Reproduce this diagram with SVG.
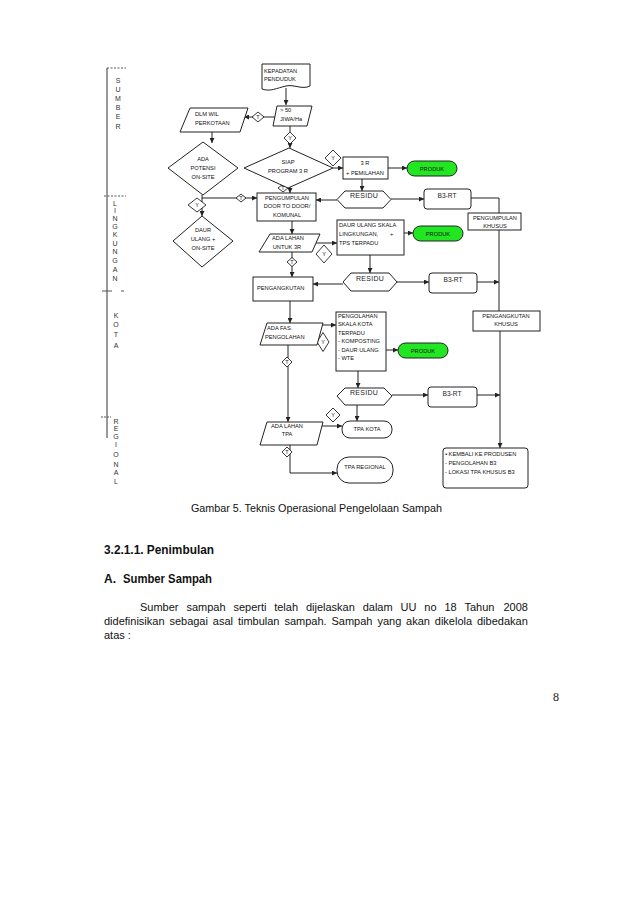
<svg xmlns="http://www.w3.org/2000/svg" width="638" height="899" viewBox="0 0 638 899">
<style>
.ln{fill:none;stroke:#222;stroke-width:1}
.bx{fill:#fff;stroke:#222;stroke-width:1}
.gr{fill:#22e622;stroke:#222;stroke-width:1}
.t{font-family:"Liberation Sans",Arial,sans-serif;font-size:5.7px;fill:#111}
.c{text-anchor:middle}
.res{font-family:"Liberation Sans",Arial,sans-serif;font-size:7px;fill:#222;text-anchor:middle;letter-spacing:0.3px}
.b3{font-family:"Liberation Sans",Arial,sans-serif;font-size:6.6px;fill:#222;text-anchor:middle}
.sd{fill:#fff;stroke:#222;stroke-width:0.9}
.st{font-family:"Liberation Sans",Arial,sans-serif;font-size:5.5px;fill:#222;text-anchor:middle}
.ax{font-family:"Liberation Sans",Arial,sans-serif;font-size:7px;fill:#333;text-anchor:middle}
.body{font-family:"Liberation Sans",Arial,sans-serif;font-size:11px;fill:#111}
.hd{font-family:"Liberation Sans",Arial,sans-serif;font-size:12px;font-weight:bold;fill:#111}
</style>
<defs>
<marker id="a" viewBox="0 0 6 6" refX="6" refY="3" markerWidth="5" markerHeight="5" orient="auto" markerUnits="userSpaceOnUse"><path d="M0,0 L6,3 L0,6 z" fill="#222"/></marker>
</defs>
<rect width="638" height="899" fill="#fff"/>

<g id="axis">
<line x1="107" y1="68" x2="107" y2="438" stroke="#555" stroke-width="1.2"/>
<line x1="107" y1="68" x2="126" y2="68" stroke="#555" stroke-width="1" stroke-dasharray="2,1.5"/>
<line x1="104" y1="196" x2="126" y2="196" stroke="#555" stroke-width="1" stroke-dasharray="2,1.5"/>
<line x1="102" y1="291" x2="112" y2="291" stroke="#555" stroke-width="1"/>
<line x1="121" y1="291" x2="124" y2="291" stroke="#555" stroke-width="1"/>
<line x1="101" y1="417" x2="111" y2="417" stroke="#555" stroke-width="1" stroke-dasharray="2,1"/>
<text class="ax" x="118" y="83">S</text><text class="ax" x="118" y="92">U</text><text class="ax" x="118" y="101">M</text><text class="ax" x="118" y="110">B</text><text class="ax" x="118" y="119">E</text><text class="ax" x="118" y="129">R</text>
<text class="ax" x="115" y="206">L</text><text class="ax" x="115" y="213">I</text><text class="ax" x="115" y="221">N</text><text class="ax" x="115" y="229">G</text><text class="ax" x="115" y="237">K</text><text class="ax" x="115" y="246">U</text><text class="ax" x="115" y="254">N</text><text class="ax" x="115" y="263">G</text><text class="ax" x="115" y="272">A</text><text class="ax" x="115" y="281">N</text>
<text class="ax" x="116" y="318">K</text><text class="ax" x="116" y="327">O</text><text class="ax" x="116" y="337">T</text><text class="ax" x="116" y="348">A</text>
<text class="ax" x="116" y="424">R</text><text class="ax" x="116" y="431">E</text><text class="ax" x="116" y="439">G</text><text class="ax" x="116" y="447">I</text><text class="ax" x="116" y="457">O</text><text class="ax" x="116" y="467">N</text><text class="ax" x="116" y="475">A</text><text class="ax" x="116" y="484">L</text>
</g>

<g id="connectors">
<path class="ln" d="M286,88 V105" marker-end="url(#a)"/>
<path class="ln" d="M275,117 H244" marker-end="url(#a)"/>
<path class="ln" d="M212,132 V143" marker-end="url(#a)"/>
<path class="ln" d="M290,126 V148" marker-end="url(#a)"/>
<path class="ln" d="M333,168 H343" marker-end="url(#a)"/>
<path class="ln" d="M290,186 V193" marker-end="url(#a)"/>
<path class="ln" d="M388,168 H407" marker-end="url(#a)"/>
<path class="ln" d="M362,179 V191" marker-end="url(#a)"/>
<path class="ln" d="M391,199 H424" marker-end="url(#a)"/>
<path class="ln" d="M337,200 H316" marker-end="url(#a)"/>
<path class="ln" d="M471,198 H499 V213"/>
<path class="ln" d="M499,230 V311"/>
<path class="ln" d="M477,282 H499" marker-end="url(#a)"/>
<path class="ln" d="M500,331 V448" marker-end="url(#a)"/>
<path class="ln" d="M477,395 H500" marker-end="url(#a)"/>
<path class="ln" d="M202,195 V216" marker-end="url(#a)"/>
<path class="ln" d="M202,198 H257" marker-end="url(#a)"/>
<path class="ln" d="M292,221 V234" marker-end="url(#a)"/>
<path class="ln" d="M316,243 H337" marker-end="url(#a)"/>
<path class="ln" d="M404,233 H413" marker-end="url(#a)"/>
<path class="ln" d="M370,255 V273" marker-end="url(#a)"/>
<path class="ln" d="M397,282 H429" marker-end="url(#a)"/>
<path class="ln" d="M343,284 H313" marker-end="url(#a)"/>
<path class="ln" d="M292,252 V277" marker-end="url(#a)"/>
<path class="ln" d="M290,301 V323" marker-end="url(#a)"/>
<path class="ln" d="M320,325 H336" marker-end="url(#a)"/>
<path class="ln" d="M386,350 H398" marker-end="url(#a)"/>
<path class="ln" d="M358,371 V388" marker-end="url(#a)"/>
<path class="ln" d="M392,395 H428" marker-end="url(#a)"/>
<path class="ln" d="M357,405 V421" marker-end="url(#a)"/>
<path class="ln" d="M288,345 V422" marker-end="url(#a)"/>
<path class="ln" d="M320,426 H342" marker-end="url(#a)"/>
<path class="ln" d="M290,445 V473 H337" marker-end="url(#a)"/>
<g id="cond-labels">
<polygon class="sd" points="252,117 258,112 264,117 258,122"/><text class="st" x="258" y="119">T</text>
<polygon class="sd" points="284,138 290,132 296,138 290,144"/><text class="st" x="290" y="140">Y</text>
<polygon class="sd" points="325,158 333,150 341,158 333,166"/><text class="st" x="333" y="160">Y</text>
<polygon class="sd" points="278,188 283,184 288,188 283,192"/><text class="st" x="283" y="190">T</text>
<polygon class="sd" points="236,198 241,194 246,198 241,202"/><text class="st" x="241" y="200">T</text>
<polygon class="sd" points="188,205 197,198 206,205 197,212"/><text class="st" x="197" y="207">Y</text>
<polygon class="sd" points="316,254 324,245 332,254 324,263"/><text class="st" x="324" y="256">Y</text>
<polygon class="sd" points="287,262 292,257.5 297,262 292,266.5"/><text class="st" x="292" y="264">T</text>
<polygon class="sd" points="317,342 323,332.5 329,342 323,351.5"/><text class="st" x="323" y="344">Y</text>
<polygon class="sd" points="282,362 287,357 292,362 287,367"/><text class="st" x="287" y="364">T</text>
<polygon class="sd" points="326,415 333,408 340,415 333,422"/><text class="st" x="333" y="417">Y</text>
<polygon class="sd" points="282,452 287,447 292,452 287,457"/><text class="st" x="287" y="454">T</text>
</g>
</g>

<g id="kepadatan">
<path class="bx" d="M262,64 H310 V86 C302,90 294,84 286,86 C277,88 270,92 262,89 Z"/>
<text class="t" x="264" y="73">KEPADATAN</text><text class="t" x="264" y="81">PENDUDUK</text>
</g>
<g id="jiwa">
<polygon class="bx" points="277,106 312,106 307,126 273,126"/>
<text class="t" x="280" y="112">&gt; 50</text><text class="t" x="280" y="121">JIWA/Ha</text>
</g>
<g id="dlm-wil">
<polygon class="bx" points="190,108 248,108 240,132 180,132"/>
<text class="t" x="195" y="116">DLM WIL</text><text class="t" x="195" y="125">PERKOTAAN</text>
</g>
<g id="ada-potensi">
<polygon class="bx" points="203,142 238,168 203,195 168,168"/>
<text class="t c" x="203" y="161">ADA</text><text class="t c" x="203" y="170">POTENSI</text><text class="t c" x="203" y="179">ON-SITE</text>
</g>
<g id="siap">
<polygon class="bx" points="289,148 333,168 288,188 244,168"/>
<text class="t c" x="288" y="164">SIAP</text><text class="t c" x="288" y="173">PROGRAM 3 R</text>
</g>
<g id="tiga-r">
<rect class="bx" x="343" y="157" width="45" height="22"/>
<text class="t c" x="365" y="165">3 R</text><text class="t c" x="365" y="175">+ PEMILAHAN</text>
</g>
<g id="produk1">
<rect class="gr" x="407" y="161" width="50" height="15" rx="7.5"/>
<text class="t c" x="432" y="171">PRODUK</text>
</g>
<g id="residu1">
<polygon class="bx" points="337,199.5 345,191 383,191 391,199.5 383,208 345,208"/>
<text class="res" x="364" y="198">RESIDU</text>
</g>
<g id="b3rt1">
<rect class="bx" x="424" y="189" width="47" height="20" rx="3"/>
<text class="b3" x="447" y="198">B3-RT</text>
</g>
<g id="pengumpulan-khusus">
<rect class="bx" x="468" y="213" width="53" height="17"/>
<text class="t c" x="495" y="219.5">PENGUMPULAN</text><text class="t c" x="495" y="228">KHUSUS</text>
</g>
<g id="daur-onsite">
<polygon class="bx" points="202,216 233,241 202,267 173,241"/>
<text class="t c" x="203" y="232">DAUR</text><text class="t c" x="203" y="241">ULANG +</text><text class="t c" x="203" y="250">ON-SITE</text>
</g>
<g id="pengumpulan">
<rect class="bx" x="257" y="193" width="59" height="28"/>
<text class="t c" x="287" y="199.5">PENGUMPULAN</text><text class="t c" x="287" y="208">DOOR TO DOOR/</text><text class="t c" x="287" y="216.5">KOMUNAL</text>
</g>
<g id="ada-lahan-3r">
<polygon class="bx" points="270,234 320,234 312,252 259,252"/>
<text class="t c" x="288" y="240">ADA LAHAN</text><text class="t c" x="287" y="249">UNTUK  3R</text>
</g>
<g id="daur-skala">
<rect class="bx" x="337" y="220" width="67" height="35"/>
<text class="t" x="339" y="227">DAUR ULANG SKALA</text><text class="t" x="339" y="236">LINGKUNGAN,</text><text class="t" x="390" y="236">+</text><text class="t" x="339" y="245">TPS TERPADU</text>
</g>
<g id="produk2">
<rect class="gr" x="413" y="226" width="50" height="15" rx="7.5"/>
<text class="t c" x="438" y="236">PRODUK</text>
</g>
<g id="residu2">
<polygon class="bx" points="343,282 351,273 389,273 397,282 389,291 351,291"/>
<text class="res" x="370" y="281">RESIDU</text>
</g>
<g id="b3rt2">
<rect class="bx" x="429" y="273" width="48" height="20" rx="3"/>
<text class="b3" x="453" y="282">B3-RT</text>
</g>
<g id="pengangkutan">
<rect class="bx" x="253" y="277" width="60" height="24"/>
<text class="t" x="257" y="290">PENGANGKUTAN</text>
</g>
<g id="pengangkutan-khusus">
<rect class="bx" x="473" y="311" width="67" height="20"/>
<text class="t c" x="506" y="317.5">PENGANGKUTAN</text><text class="t c" x="506" y="325.5">KHUSUS</text>
</g>
<g id="ada-fas">
<polygon class="bx" points="267,323 323,323 317,345 260,345"/>
<text class="t" x="267" y="330">ADA FAS.</text><text class="t" x="265" y="339">PENGOLAHAN</text>
</g>
<g id="pengolahan-kota">
<rect class="bx" x="336" y="312" width="50" height="59"/>
<text class="t" x="338" y="317.5">PENGOLAHAN</text><text class="t" x="338" y="326">SKALA KOTA</text><text class="t" x="338" y="334.5">TERPADU</text><text class="t" x="338" y="343">- KOMPOSTING</text><text class="t" x="338" y="351.5">- DAUR ULANG</text><text class="t" x="338" y="360">- WTE</text>
</g>
<g id="produk3">
<rect class="gr" x="398" y="343" width="50" height="15" rx="7.5"/>
<text class="t c" x="423" y="353">PRODUK</text>
</g>
<g id="residu3">
<polygon class="bx" points="337,396 345,388 384,388 392,396 384,405 345,405"/>
<text class="res" x="364" y="395">RESIDU</text>
</g>
<g id="b3rt3">
<rect class="bx" x="428" y="387" width="49" height="20" rx="3"/>
<text class="b3" x="452" y="396">B3-RT</text>
</g>
<g id="ada-lahan-tpa">
<polygon class="bx" points="267,422 323,422 317,445 260,445"/>
<text class="t c" x="287" y="428">ADA LAHAN</text><text class="t c" x="287" y="436">TPA</text>
</g>
<g id="tpa-kota">
<rect class="bx" x="342" y="421" width="50" height="17" rx="8"/>
<text class="t c" x="367" y="431">TPA KOTA</text>
</g>
<g id="tpa-regional">
<rect class="bx" x="337" y="457" width="56" height="26" rx="12"/>
<text class="t c" x="365" y="469">TPA REGIONAL</text>
</g>
<g id="kembali">
<rect class="bx" x="443" y="448" width="85" height="40" rx="3"/>
<text class="t" x="445" y="456">▪ KEMBALI KE PRODUSEN</text><text class="t" x="445" y="465">-  PENGOLAHAN B3</text><text class="t" x="445" y="473.5">-  LOKASI  TPA KHUSUS B3</text>
</g>

<g id="page-text">
<text class="body" x="191" y="512" font-size="11.5" textLength="251" lengthAdjust="spacingAndGlyphs">Gambar 5. Teknis Operasional Pengelolaan Sampah</text>
<text class="hd" x="104" y="554" textLength="110" lengthAdjust="spacingAndGlyphs">3.2.1.1. Penimbulan</text>
<text class="hd" x="104" y="583">A.</text>
<text class="hd" x="123" y="583" textLength="89" lengthAdjust="spacingAndGlyphs">Sumber Sampah</text>
<text class="body" y="611"><tspan x="140">Sumber</tspan><tspan x="186.4">sampah</tspan><tspan x="233.4">seperti</tspan><tspan x="274.2">telah</tspan><tspan x="305.9">dijelaskan</tspan><tspan x="362.7">dalam</tspan><tspan x="400.5">UU</tspan><tspan x="424.3">no</tspan><tspan x="444.4">18</tspan><tspan x="464.5">Tahun</tspan><tspan x="503.5">2008</tspan></text>
<text class="body" y="625"><tspan x="104">didefinisikan</tspan><tspan x="169.4">sebagai</tspan><tspan x="212.8">asal</tspan><tspan x="237.9">timbulan</tspan><tspan x="284.4">sampah.</tspan><tspan x="331.5">Sampah</tspan><tspan x="377.4">yang</tspan><tspan x="406.1">akan</tspan><tspan x="434.8">dikelola</tspan><tspan x="477">dibedakan</tspan></text>
<text class="body" x="104" y="639">atas :</text>
<text x="556" y="701" font-family="Liberation Serif, serif" font-size="12" fill="#222" text-anchor="middle">8</text>
</g>
</svg>
